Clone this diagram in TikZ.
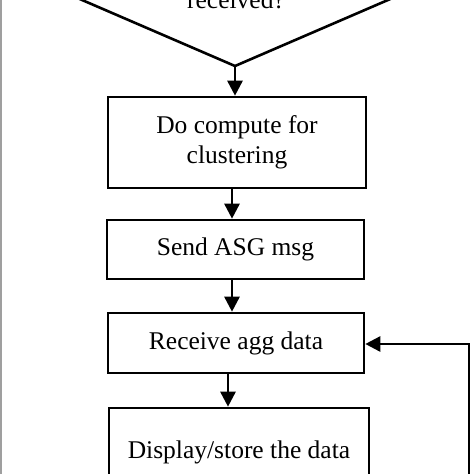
\documentclass[tikz,border=0pt]{standalone}
\usepackage{fontspec}
\setmainfont{Liberation Serif}
\usetikzlibrary{arrows.meta,positioning,calc}
\tikzset{
  box/.style={draw=black, line width=2.6pt, rectangle, align=center, inner sep=0pt,
    font=\fontsize{25.5}{30}\selectfont},
  arr/.style={draw=black, line width=2.6pt, -{Triangle[length=15pt,width=15pt]}},
  outl/.style={draw=black, line width=2.6pt},
}
\begin{document}
\begin{tikzpicture}[x=1pt,y=-1pt]
\useasboundingbox (0,0) rectangle (474,474);
\clip (0,0) rectangle (474,474);
\fill[white] (0,0) rectangle (474,474);
\draw[gray!75, line width=2.2pt] (1,0) -- (1,474);
% cropped decision diamond
\coordinate (dtop) at (235,-186);
\coordinate (dleft) at (-57,-60);
\coordinate (dright) at (527,-60);
\coordinate (dbot) at (235,66);
\draw[outl, line join=miter] (dtop) -- (dright) -- (dbot) -- (dleft) -- cycle;
\node[anchor=base, font=\fontsize{25.5}{30}\selectfont, inner sep=0pt] (dtext) at (236,8) {received?};
% boxes
\node[box, minimum width=258pt, minimum height=91pt] (b1) at (237,142.5) {Do compute for\\clustering};
\node[box, minimum width=257pt, minimum height=59pt] (b2) at (235.5,249.5) {Send ASG msg};
\node[box, minimum width=256pt, minimum height=60pt] (b3) at (236,343) {Receive agg data};
\node[box, minimum width=260pt, minimum height=84pt, text depth=0pt] (b4) at (239,450) {Display/store the data};
\coordinate (fb) at (469,490);
% connectors
\draw[arr] (dbot) -- (dbot |- b1.north);
\draw[arr] ([xshift=-5pt]b1.south) -- ([xshift=-3.5pt]b2.north);
\draw[arr] ([xshift=-3.5pt]b2.south) -- ([xshift=-4pt]b3.north);
\draw[arr] ([xshift=-8pt]b3.south) -- ([xshift=-11pt]b4.north);
\draw[arr] (fb) |- ([yshift=-1pt]b3.east);
\end{tikzpicture}
\end{document}
